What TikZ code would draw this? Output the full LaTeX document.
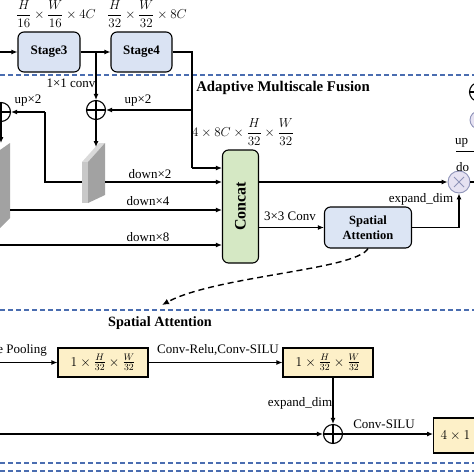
\documentclass[tikz,border=0pt]{standalone}
\usepackage{fix-cm}
\usepackage{amsmath}
\usepackage{fontspec}
\setmainfont{Liberation Serif}
\usetikzlibrary{arrows.meta,calc}
\definecolor{stageblue}{HTML}{DAE3F3}
\definecolor{concatgreen}{HTML}{D5E8C4}
\definecolor{sablue}{HTML}{DCE5F4}
\definecolor{yellowbox}{HTML}{FDF0C8}
\definecolor{dashblue}{HTML}{4A6DB0}
\definecolor{mulfill}{HTML}{E6E2F2}
\definecolor{muldraw}{HTML}{8E93B8}
\definecolor{slabfront}{HTML}{C8C8C8}
\definecolor{slabside}{HTML}{A2A2A2}
\definecolor{slabtop}{HTML}{DADADA}
\begin{document}
\begin{tikzpicture}[x=1pt,y=-1pt,
  txt/.style={font=\fontsize{13}{15}\selectfont, inner sep=0pt},
  btxt/.style={font=\bfseries\fontsize{13}{15}\selectfont, inner sep=0pt},
  stagebox/.style={draw, line width=1.1pt, rounded corners=6pt, fill=stageblue,
    minimum width=62pt, minimum height=40pt, inner sep=0pt,
    font=\bfseries\fontsize{13}{15}\selectfont},
  sabox/.style={draw, line width=1.1pt, rounded corners=6pt, fill=sablue,
    minimum width=87pt, minimum height=41pt, inner sep=0pt, align=center,
    font=\bfseries\fontsize{12.5}{14.5}\selectfont},
  ybox/.style={draw, line width=1.1pt, fill=yellowbox, minimum width=90pt,
    minimum height=29pt, inner sep=0pt, font=\fontsize{13.5}{15}\selectfont},
  arr/.style={line width=1.1pt, -{Latex[length=6pt,width=5pt]}},
  ln/.style={line width=1.1pt},
  sep/.style={dashblue, line width=1.6pt, dash pattern=on 5pt off 3pt},
  oplus/.style={circle, draw, line width=1.1pt, minimum size=19pt, inner sep=0pt,
    path picture={\draw[line width=1.1pt]
      (path picture bounding box.north) -- (path picture bounding box.south)
      (path picture bounding box.west) -- (path picture bounding box.east);}},
  mulstyle/.style={circle, draw=muldraw, fill=mulfill, line width=0.9pt,
    minimum size=22pt, inner sep=0pt,
    path picture={\draw[muldraw, line width=0.9pt]
      ([shift={(-5pt,-5pt)}]path picture bounding box.center) -- ([shift={(5pt,5pt)}]path picture bounding box.center)
      ([shift={(-5pt,5pt)}]path picture bounding box.center) -- ([shift={(5pt,-5pt)}]path picture bounding box.center);}},
]
\useasboundingbox (0,0) rectangle (474,474);
\clip (0,0) rectangle (474,474);

% separators
\draw[sep] (0,75) -- (474,75);
\draw[sep] (0,310) -- (474,310);
\draw[sep, line width=1.1pt] (0,463) -- (474,463);
\draw[sep, line width=1.9pt] (0,471) -- (474,471);

% stages
\node[stagebox] (s3) at (49,52) {Stage3};
\node[stagebox, minimum width=61pt] (s4) at (141.5,52) {Stage4};
\node[txt] (d3) at (56,14) {$\dfrac{H}{16}\times\dfrac{W}{16}\times 4C$};
\node[txt] (d4) at (147,14) {$\dfrac{H}{32}\times\dfrac{W}{32}\times 8C$};
\coordinate (in3) at (0,52);
\draw[arr] (in3) -- (s3);
\draw[arr] (s3) -- (s4);

% slabs
\fill[slabtop] (82,162) -- (99,143) -- (105,143) -- (88,162) -- cycle;
\fill[slabfront] (82,162) -- (88,162) -- (88,203) -- (82,203) -- cycle;
\fill[slabside] (88,162) -- (105,143) -- (105,195) -- (88,203) -- cycle;
\fill[slabside] (-20,150) -- (0,150) -- (10,143) -- (10,218) -- (0,228) -- (-20,228) -- cycle;
\coordinate (sl1top) at (96,147);
\coordinate (sl1L) at (82,182);
\coordinate (sl1R) at (105,182);
\coordinate (sl0top) at (1,143);
\coordinate (sl0R) at (10,210);
\coordinate (in8) at (0,245);

% concat
\node[draw, line width=1.1pt, rounded corners=6pt, fill=concatgreen,
  minimum width=36pt, minimum height=113pt, inner sep=0pt] (concat) at (240.5,206.5) {};
\node[rotate=90, font=\bfseries\fontsize{16}{18}\selectfont, inner sep=0pt] (concattxt) at (concat) {Concat};

% upper path
\node[oplus] (p1) at (96,110) {};
\node[oplus] (p0) at (1,112) {};
\coordinate (j1) at (96,52);
\coordinate (j2) at (192,52);
\coordinate (j3) at (192,110);
\coordinate (j4) at (192,168);
\coordinate (j5) at (45,182);
\coordinate (j6) at (45,112);
\node[txt, fill=white, inner sep=0.5pt] (l11) at (71,83) {1×1 conv};
\draw[arr] (j1) -- (p1);
\draw[ln] (s4.east) -- (j2) -- (j4);
\draw[arr] (j4) -- (j4 -| concat.west);
\draw[arr] (j3) -- (p1);
\draw[arr] (p1) -- (sl1top);
\draw[ln] (sl1L) -- (j5) -- (j6);
\draw[arr] (j6) -- (p0);
\draw[arr] (p0) -- (sl0top);
\draw[arr] (sl1R) -- (sl1R -| concat.west);
\draw[arr] (sl0R) -- (sl0R -| concat.west);
\draw[arr] (in8) -- (in8 -| concat.west);

% labels upper
\node[txt] (lu1) at (138,101) {up×2};
\node[txt] (lu0) at (28,101) {up×2};
\node[txt] (ld2) at (150,174) {down×2};
\node[txt] (ld4) at (148,201) {down×4};
\node[txt] (ld8) at (148,237) {down×8};
\node[btxt, font=\bfseries\fontsize{14.8}{16}\selectfont] (amf) at (283,88) {Adaptive Multiscale Fusion};
\node[txt] (dc) at (243,132) {$4\times 8C\times\dfrac{H}{32}\times\dfrac{W}{32}$};

% spatial attention and multiply
\node[sabox] (sa) at (368,227.5) {Spatial\\Attention};
\node[mulstyle] (mul) at (459,182) {};
\coordinate (outR) at (474,182);
\draw[arr] (concat.east |- mul) -- (mul);
\draw[arr] (concat.east |- sa.west) -- (sa.west);
\draw[arr] (sa.east) -| (mul.south);
\draw[ln] (mul.east) -- (outR);
\node[txt] (l33) at (290,216) {3×3 Conv};
\node[txt] (led) at (421,199) {expand\_dim};

% dashed curve
\coordinate (saT) at (162,305);
\draw[line width=1.4pt, dash pattern=on 6pt off 4pt, -{Latex[length=7pt,width=6pt]}]
  (sa.south) .. controls (356,270) and (215,276) .. (saT);

% right partial legend
\node[oplus] (lg1) at (479,92) {};
\node[circle, draw=muldraw, fill=mulfill, line width=0.9pt, minimum size=18pt] (lg2) at (479,120) {};
\node[txt, anchor=west] (lg3) at (455,143) {up};
\draw[line width=0.8pt] (456,151) -- (474,151);
\node[txt, anchor=west] (lg4) at (456,167) {do};

% bottom section
\node[btxt, font=\bfseries\fontsize{14.2}{16}\selectfont] (sat) at (160,323) {Spatial Attention};
\node[ybox] (y1) at (103,362.5) {$1\times\tfrac{H}{32}\times\tfrac{W}{32}$};
\node[ybox] (y2) at (328,362.5) {$1\times\tfrac{H}{32}\times\tfrac{W}{32}$};
\node[ybox, minimum height=35pt, anchor=west, inner xsep=7pt] (y3) at (433,435.5) {$4\times 1\times\tfrac{H}{32}\times\tfrac{W}{32}$};
\node[oplus] (p2) at (333,434) {};
\coordinate (pin) at (0,362.5);
\coordinate (lin) at (0,434);
\draw[arr] (pin) -- (y1);
\draw[arr] (y1) -- (y2);
\draw[arr] (y2.south -| p2) -- (p2);
\draw[arr] (lin) -- (p2);
\draw[arr] (p2) -- (p2 -| y3.west);
\node[txt, anchor=east] (lpool) at (47,350) {Average Pooling};
\node[txt] (lcr) at (218,350) {Conv-Relu,Conv-SILU};
\node[txt] (led2) at (300,403) {expand\_dim};
\node[txt] (lcs) at (384,424) {Conv-SILU};
\end{tikzpicture}
\end{document}
